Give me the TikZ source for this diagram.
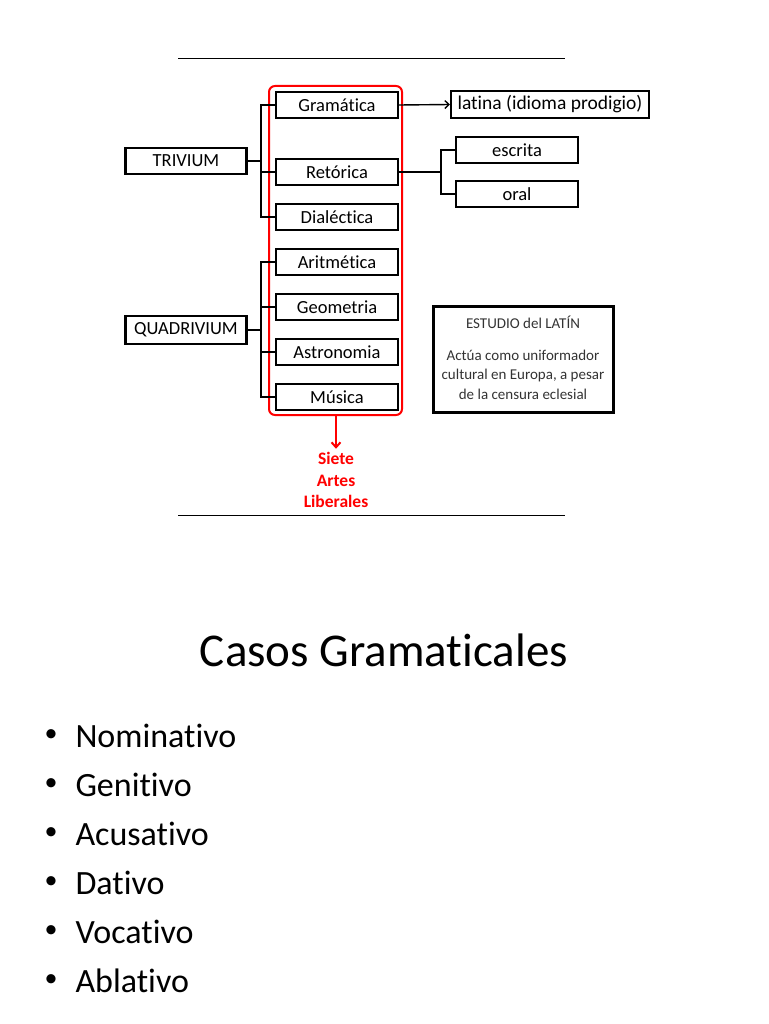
\documentclass[tikz,border=0pt]{standalone}
\usepackage{fontspec}
\setmainfont{Carlito}[Ligatures={NoCommon}]
\usetikzlibrary{arrows.meta}
\begin{document}
\begin{tikzpicture}[x=1pt,y=-1pt,
  bx/.style={draw,line width=2.4pt,minimum height=26pt,inner sep=0pt,font=\fontsize{18.5}{20}\selectfont},
  mid/.style={bx,minimum width=122pt},
  ln/.style={line width=2.4pt},
  bul/.style={anchor=west,font=\fontsize{34}{38}\selectfont}]
\useasboundingbox (0,0) rectangle (768,1024);
\draw[line width=0.8pt] (178,58) -- (565,58);
\draw[line width=0.8pt] (178,515) -- (565,515);
\node[bx,minimum width=121pt] (tri) at (186,161) {TRIVIUM};
\node[bx,minimum width=121pt,minimum height=28pt] (qua) at (186,330) {QUADRIVIUM};
\node[mid] (g) at (337,105) {Gramática};
\node[mid] (r) at (337,172) {Retórica};
\node[mid] (d) at (337,217) {Dialéctica};
\node[mid] (a) at (337,262) {Aritmética};
\node[mid] (ge) at (337,307) {Geometria};
\node[mid] (as) at (337,352) {Astronomia};
\node[mid] (m) at (337,397) {Música};
\node[bx,minimum width=198pt,minimum height=27pt,font=\fontsize{19.5}{21}\selectfont] (lat) at (550,104.5) {latina (idioma prodigio)};
\node[bx,minimum width=122pt] (esc) at (517,150) {escrita};
\node[bx,minimum width=122pt] (ora) at (517,194) {oral};
\node[draw,line width=3pt,minimum width=180pt,minimum height=106pt] (est) at (523,359) {};
\node[font=\fontsize{15}{16}\selectfont,text=black!80] (et) at (523,322) {ESTUDIO del LATÍN};
\node[font=\fontsize{15}{19.5}\selectfont,align=center,text=black!80] (eb) at (523,374.5) {Actúa como uniformador\\cultural en Europa, a pesar\\de la censura eclesial};
\draw[red,line width=2pt,rounded corners=6pt] (269,86) rectangle (402,415);
\coordinate (rb) at (336,415);
\node[red,font=\bfseries\fontsize{17.5}{21.5}\selectfont,align=center] (sal) at (336,480) {Siete\\Artes\\Liberales};
\draw[red,line width=2pt,-{Straight Barb[length=5pt,width=9pt]}] (rb) -- (sal.north);
% brackets
\coordinate (tj) at (261,161);
\draw[ln] (tri.east) -- (tj);
\draw[ln] (g.west) -| (tj) |- (d.west);
\draw[ln] (r.west) -- (r.west -| tj);
\coordinate (qj) at (261,330);
\draw[ln] (qua.east) -- (qj);
\draw[ln] (a.west) -| (qj) |- (m.west);
\draw[ln] (ge.west) -- (ge.west -| qj);
\draw[ln] (as.west) -- (as.west -| qj);
\draw[line width=1.4pt,-{Straight Barb[length=4pt,width=8pt]}] (g.east) -- (lat.west);
\coordinate (rj) at (441,172);
\draw[ln] (r.east) -- (rj);
\draw[ln] (esc.west) -| (rj) |- (ora.west);
\node[font=\fontsize{47}{50}\selectfont] (tit) at (384,650) {Casos Gramaticales};
\foreach \t [count=\i] in {Nominativo,Genitivo,Acusativo,Dativo,Vocativo,Ablativo}{
  \node[bul] (b\i) at (72,{736+49*(\i-1)}) {\t};
  \node[font=\fontsize{26}{30}\selectfont] (d\i) at (51,{736+49*(\i-1)}) {•};
}
\end{tikzpicture}
\end{document}
